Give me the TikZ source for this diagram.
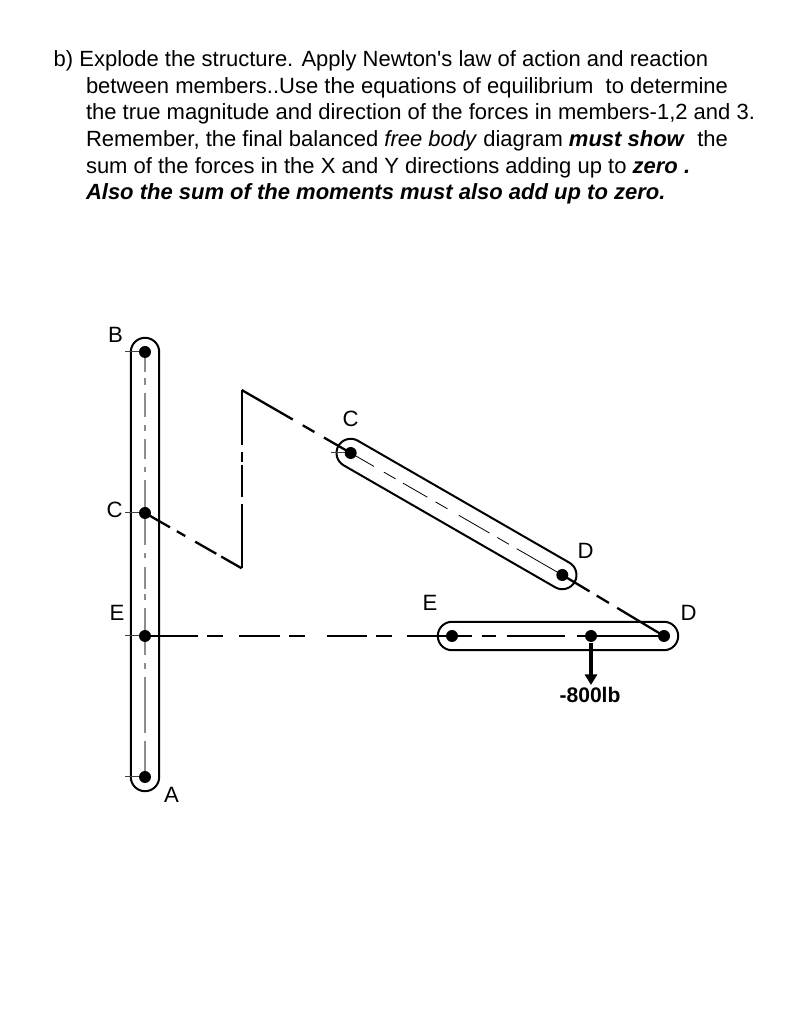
\documentclass[tikz,border=0pt]{standalone}
\usepackage{fontspec}
\setmainfont{Liberation Sans}
\usetikzlibrary{calc,arrows.meta}
\def\capsule(#1)(#2)(#3){\draw[memberline] ($(#1)!.142cm!90:(#2)$) -- ($(#2)!.142cm!-90:(#1)$) arc (#3+90:#3-90:.142) -- ($(#1)!.142cm!-90:(#2)$) arc (#3-90:#3-270:.142) -- cycle;}
\tikzset{
	memberline/.style={line width=0.2mm},
	linkline/.style={line width=0.23mm},
	axisgray/.style={line width=0.18mm, color=black!45},
	axisthin/.style={line width=0.08mm},
	tickline/.style={line width=0.1mm, color=black!75},
	joint/.style={circle, fill=black, inner sep=0pt, minimum size=1.2mm},
	txt/.style={anchor=base west, inner sep=0pt, font=\fontsize{6.26}{7.5}\selectfont},
	lbl/.style={inner sep=0pt, font=\fontsize{6.3}{7.5}\selectfont}
}
\begin{document}
\begin{tikzpicture}
		\useasboundingbox (0, 0) rectangle (7.91, 10.24);
		
		%%%%% TEXT %%%%%
		\node[txt] (line1) at (0.53, 9.573) {b) Explode the structure. Apply Newton\textquotesingle s law of action and reaction};
		\node[txt] (line2) at (0.853, 9.307) {between members..Use the equations of equilibrium\ \ to determine};
		\node[txt] (line3) at (0.853, 9.04) {the true magnitude and direction of the forces in members-1,2 and 3.};
		\node[txt] (line4) at (0.853, 8.773) {Remember, the final balanced \textit{free body} diagram \textbf{\textit{must show}}\ \ the};
		\node[txt] (line5) at (0.853, 8.507) {sum of the forces in the X and Y directions adding up to \textbf{\textit{zero .}}};
		\node[txt] (line6) at (0.853, 8.24) {\textbf{\textit{Also the sum of the moments must also add up to zero.}}};
		
		%%%%% JOINTS %%%%%
		\coordinate (bendlo) at (2.417, 4.557);
		\coordinate (bendhi) at (2.417, 6.34);
		\coordinate (loadend) at (5.91, 3.39);
		
		\path (1.45, 6.72) coordinate (pb);
		\path (1.45, 5.11) coordinate (pc);
		\path (1.45, 3.88) coordinate (pe);
		\path (1.45, 2.47) coordinate (pa);
		\path (3.507, 5.71) coordinate (qc);
		\path (5.623, 4.49) coordinate (qd);
		\path (4.52, 3.88) coordinate (re);
		\path (5.91, 3.88) coordinate (rm);
		\path (6.64, 3.88) coordinate (rd);
		
		%%%%% MEMBERS %%%%%
		\capsule(pb)(pa)(-90);
		\capsule(qc)(qd)(-30);
		\capsule(re)(rd)(0);
		
		\draw[axisgray, dash pattern=on 1.97mm off 0.66mm on 0.67mm off 0.83mm on 2.34mm off 0.83mm on 0.6mm off 0.8mm on 2mm off 0.77mm on 0.56mm off 0.77mm on 6.5mm off 0.83mm on 0.5mm off 0.84mm on 2.26mm off 0.47mm on 0.6mm off 0.83mm on 4.67mm off 0.83mm on 0.57mm off 0.83mm on 5.54mm off 0.8mm on 5mm] (pb) -- (pa);
		\draw[axisthin, dash pattern=on 2.7mm off 1.13mm on 1.35mm off 0.87mm on 2.8mm off 0.93mm on 1.39mm off 1.3mm on 3.55mm off 0.9mm on 1.35mm off 0.89mm on 6mm] (qc) -- (qd);
		
		\foreach \pinname in {pb, pc, pe, pa, qc}{
			\draw[tickline] (\pinname) -- ++(-0.2, 0);
		}
		
		%%%%% LINKS %%%%%
		\draw[linkline, dash pattern=on 2.88mm off 0.79mm on 0.96mm off 1.15mm on 2.43mm off 0.57mm on 3mm] (pc) -- (bendlo);
		\draw[linkline, dash pattern=on 6.43mm off 0.67mm on 3.23mm off 0.33mm on 0.94mm off 0.73mm on 6mm] (bendlo) -- (bendhi);
		\draw[linkline, dash pattern=on 5.9mm off 1.15mm on 1.35mm off 1.1mm on 4mm] (bendhi) -- (qc);
		\draw[linkline, dash pattern=on 3.18mm off 0.83mm on 1.43mm off 0.96mm on 6mm] (qd) -- (rd);
		\draw[linkline, dash pattern=on 5.3mm off 0.9mm on 1.6mm off 1.6mm on 4.1mm off 0.9mm on 1.6mm off 2.17mm on 4mm off 0.93mm on 1.57mm off 1.5mm on 6.5mm off 1mm on 1.43mm off 1.07mm on 5.83mm off 1.17mm on 9mm] (pe) -- (rd);
		
		\node[joint] (jb) at (pb) {};
		\node[joint] (jc) at (pc) {};
		\node[joint] (je) at (pe) {};
		\node[joint] (ja) at (pa) {};
		\node[joint] (kc) at (qc) {};
		\node[joint] (kd) at (qd) {};
		\node[joint] (le) at (re) {};
		\node[joint] (lm) at (rm) {};
		\node[joint] (ld) at (rd) {};
		
		\draw[line width=0.35mm, -{Triangle[width=1.2mm, length=1.05mm]}] (lm) -- (loadend);
		
		%%%%% LABELS %%%%%
		\node[lbl] (labb) at (1.155, 6.89) {B};
		\node[lbl] (labc) at (1.145, 5.145) {C};
		\node[lbl] (labe) at (1.17, 4.115) {E};
		\node[lbl] (laba) at (1.715, 2.29) {A};
		\node[lbl] (labc2) at (3.505, 6.055) {C};
		\node[lbl] (labd) at (5.855, 4.735) {D};
		\node[lbl] (labe2) at (4.30, 4.215) {E};
		\node[lbl] (labd2) at (6.885, 4.11) {D};
		\node[lbl, font=\fontsize{6}{7}\selectfont\bfseries] (labload) at (5.90, 3.29) {-800lb};
	\end{tikzpicture}
\end{document}
